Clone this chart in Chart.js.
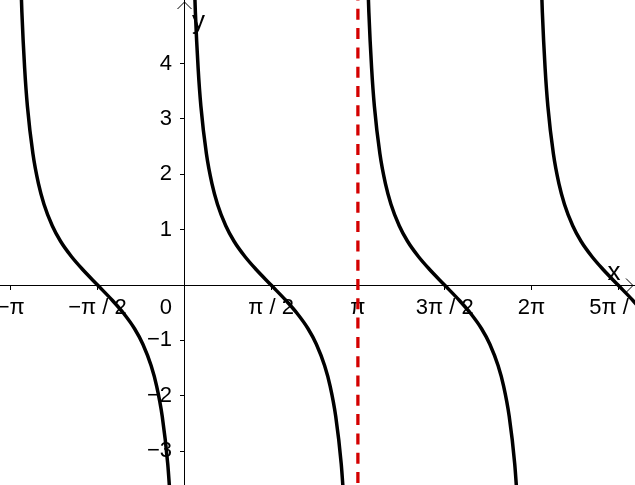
<!DOCTYPE html>
<html>
<head>
<meta charset="utf-8">
<script src="https://cdn.jsdelivr.net/npm/chart.js@4"></script>
<style>
  html, body { margin: 0; padding: 0; background: #fff; }
  #wrap { width: 635px; height: 485px; }
</style>
</head>
<body>
<div id="wrap"><canvas id="c" width="635" height="485"></canvas></div>
<script>
// cot(x) branches (x in radians, y value)
const branchY = [5.82, 4.93, 3.92, 3.23, 2.37, 1.83, 1.46, 1.07, 0.79, 0.51, 0.28, 0,
  -0.28, -0.51, -0.79, -1.07, -1.46, -1.83, -2.37, -3.23, -3.92];
const branchAX = [-2.97, -2.94, -2.89, -2.84, -2.74, -2.64, -2.54, -2.39, -2.24, -2.04, -1.84, -1.57,
  -1.30, -1.10, -0.90, -0.75, -0.60, -0.50, -0.40, -0.30, -0.25];
const branchBX = [0.17, 0.20, 0.25, 0.30, 0.40, 0.50, 0.60, 0.75, 0.90, 1.10, 1.30, 1.57,
  1.84, 2.04, 2.24, 2.39, 2.54, 2.64, 2.74, 2.84, 2.89];
const branchCX = [3.31, 3.34, 3.39, 3.44, 3.54, 3.64, 3.74, 3.89, 4.04, 4.24, 4.44, 4.71,
  4.98, 5.18, 5.38, 5.53, 5.68, 5.78, 5.88, 5.98, 6.03];
const branchDX = [6.45, 6.48, 6.53, 6.58, 6.68, 6.78, 6.88, 7.03, 7.18, 7.38, 7.58, 7.85, 8.12, 8.32];

// dashed asymptote at x = pi
const asymX = [Math.PI, Math.PI];
const asymY = [6, -4];

// ticks
const xTickHalfPi = [-2, -1, 0, 1, 2, 3, 4, 5];
const xTickLabels = ['−π', '−π / 2', '0      ', 'π / 2', 'π', '3π / 2', '2π', '5π / 2'];
const yTicks = [-3, -2, -1, 1, 2, 3, 4];

const pts = (xs, ys) => xs.map((x, i) => ({ x, y: ys[i] }));

const curve = (xs) => ({
  data: pts(xs, branchY.slice(0, xs.length)),
  showLine: true,
  borderColor: '#000',
  borderWidth: 3.5,
  pointRadius: 0,
  cubicInterpolationMode: 'monotone',
});

const FONT = 'Liberation Sans, Arial, sans-serif';

const flat = scale => {
  scale.paddingLeft = 0; scale.paddingRight = 0;
  scale.paddingTop = 0; scale.paddingBottom = 0;
};

const axisDeco = {
  id: 'axisDeco',
  afterDraw(chart) {
    const { ctx, chartArea: a, scales } = chart;
    const x0 = Math.round(scales.x.getPixelForValue(0)) + 0.5;
    const y0 = Math.round(scales.y.getPixelForValue(0)) + 0.5;
    ctx.save();
    ctx.strokeStyle = '#000';
    ctx.lineWidth = 1;
    ctx.beginPath();
    ctx.moveTo(x0 - 7, a.top + 9); ctx.lineTo(x0, a.top + 2); ctx.lineTo(x0 + 7, a.top + 9);
    ctx.moveTo(a.right - 9, y0 - 7); ctx.lineTo(a.right - 2, y0); ctx.lineTo(a.right - 9, y0 + 7);
    ctx.stroke();
    ctx.fillStyle = '#000';
    ctx.font = '26px ' + FONT;
    ctx.textAlign = 'center';
    ctx.textBaseline = 'middle';
    ctx.fillText('y', x0 + 14, a.top + 22);
    ctx.fillText('x', a.right - 21, y0 - 13);
    ctx.restore();
  },
};

new Chart(document.getElementById('c'), {
  type: 'scatter',
  data: {
    datasets: [
      curve(branchAX),
      curve(branchBX),
      curve(branchCX),
      curve(branchDX),
      {
        data: pts(asymX, asymY),
        showLine: true,
        borderColor: '#d40000',
        borderWidth: 3.3,
        borderDash: [11, 8.3],
        borderDashOffset: 2,
        pointRadius: 0,
      },
    ],
  },
  options: {
    responsive: false,
    animation: false,
    layout: { padding: 0 },
    plugins: { legend: { display: false }, tooltip: { enabled: false } },
    scales: {
      x: {
        type: 'linear',
        position: { y: 0 },
        min: -3.336,
        max: 8.157,
        afterBuildTicks: s => { s.ticks = xTickHalfPi.map(k => ({ value: k * Math.PI / 2 })); },
        afterFit: s => { s.height = 0; flat(s); },
        grid: { drawOnChartArea: false, drawTicks: true, tickLength: 4, color: '#000' },
        border: { display: true, color: '#000', width: 1 },
        ticks: {
          autoSkip: false,
          maxRotation: 0,
          padding: 6,
          color: '#000',
          font: { family: FONT, size: 22 },
          callback: (v, i) => xTickLabels[i],
        },
      },
      y: {
        type: 'linear',
        position: { x: 0 },
        min: -3.613,
        max: 5.149,
        afterBuildTicks: s => { s.ticks = yTicks.map(v => ({ value: v })); },
        afterFit: s => { s.width = 0; flat(s); },
        grid: { drawOnChartArea: false, drawTicks: true, tickLength: 4, color: '#000' },
        border: { display: true, color: '#000', width: 1 },
        ticks: {
          autoSkip: false,
          color: '#000',
          font: { family: FONT, size: 22 },
          // centred y axis puts labels right on the axis line, so pad with spaces
          callback: v => (v < 0 ? '−' + Math.abs(v) : String(v)) + '  ',
        },
      },
    },
  },
  plugins: [axisDeco],
});
</script>
</body>
</html>
